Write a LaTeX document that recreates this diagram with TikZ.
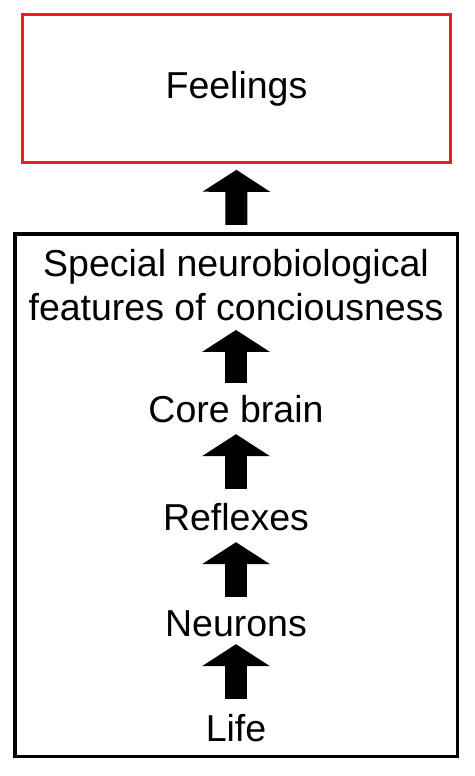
\documentclass[tikz,border=0pt]{standalone}
\usepackage{fontspec}
\setmainfont{Liberation Sans}
\usetikzlibrary{arrows.meta}

\definecolor{redline}{RGB}{237,28,36}

\tikzset{
  level/.style={inner sep=0pt, text height=27pt, text depth=0pt, anchor=base},
  bigarrow/.style={line width=22pt, -{Triangle[width=68pt,length=22pt,line width=0pt]}},
}

\begin{document}
\begin{tikzpicture}[x=1pt,y=-1pt,font=\fontsize{37.5pt}{44pt}\selectfont]
\useasboundingbox (0,0) rectangle (474,776);

% red box on top
\node[draw=redline, line width=2.7pt, inner sep=0pt, minimum width=428pt, minimum height=147.8pt] (feelings) at (236.5,88.6) {Feelings};

% black box round the steps
\node[draw, line width=3.3pt, minimum width=442.5pt, minimum height=522.5pt] (stack) at (236.25,495.25) {};

\node[inner sep=0pt, align=center] (special) at (236,285) {Special neurobiological\\features of conciousness};
\node[level] (core) at (236,422) {Core brain};
\node[level] (reflexes) at (236,530) {Reflexes};
\node[level] (neurons) at (236,636) {Neurons};
\node[level] (life) at (236,741) {Life};

\draw[bigarrow, shorten <=7.5pt, shorten >=6pt] (stack.north) -- (feelings.south);
\draw[bigarrow, shorten <=12pt, shorten >=9pt] (core.north) -- (special.south);
\draw[bigarrow, shorten <=14pt, shorten >=12pt] (reflexes.north) -- (core.south);
\draw[bigarrow, shorten <=12pt, shorten >=12pt] (neurons.north) -- (reflexes.south);
\draw[bigarrow, shorten <=15pt, shorten >=8pt] (life.north) -- (neurons.south);

\end{tikzpicture}
\end{document}
